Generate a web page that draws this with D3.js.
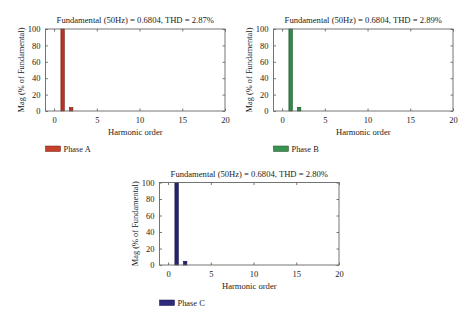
<!DOCTYPE html>
<html>
<head>
<meta charset="utf-8">
<script src="https://cdn.jsdelivr.net/npm/d3@7"></script>
<style>
  html, body { margin: 0; padding: 0; background: #fff; }
  svg { display: block; font-family: "Liberation Serif", "DejaVu Serif", serif; }
</style>
</head>
<body>
<svg id="chart" width="474" height="323"></svg>
<script>
// Harmonic orders 0..20 and magnitude spectra (% of fundamental) per phase
const harmonics = d3.range(0, 21);
const phaseA = [0, 100, 4.3, 0, 0, 0, 0, 0, 0, 0, 0, 0, 0, 0, 0, 0, 0, 0, 0, 0, 0];
const phaseB = [0, 100, 4.4, 0, 0, 0, 0, 0, 0, 0, 0, 0, 0, 0, 0, 0, 0, 0, 0, 0, 0];
const phaseC = [0, 100, 4.5, 0, 0, 0, 0, 0, 0, 0, 0, 0, 0, 0, 0, 0, 0, 0, 0, 0, 0];
const titles = [
  "Fundamental (50Hz) = 0.6804, THD = 2.87%",
  "Fundamental (50Hz) = 0.6804, THD = 2.89%",
  "Fundamental (50Hz) = 0.6804, THD = 2.80%"
];
const legendNames = ["Phase A", "Phase B", "Phase C"];
const xTicks = [0, 5, 10, 15, 20];
const yTicks = [0, 20, 40, 60, 80, 100];
const xAxisLabel = "Harmonic order";
const yAxisLabel = "Mag (% of Fundamental)";

const fills = ["#b83226", "#2f8a45", "#26236f"];
const edges = ["#6e1b14", "#174d24", "#111040"];
const swatchFills = ["#c7402b", "#3a9350", "#2e2b7c"];

// plot-area placement for each panel
const panels = [
  { x: 45.5, y: 29, w: 179.5, h: 82, values: phaseA },
  { x: 273.5, y: 29, w: 179.5, h: 82, values: phaseB },
  { x: 159.5, y: 182.5, w: 179.5, h: 82.5, values: phaseC }
];

const svg = d3.select("#chart");

panels.forEach((p, i) => {
  const g = svg.append("g").attr("transform", `translate(${p.x},${p.y})`);
  const x = d3.scaleLinear().domain([-1, 20]).range([0, p.w]);
  const y = d3.scaleLinear().domain([0, 100]).range([p.h, 0]);
  const barW = 3.4;

  // bars
  g.selectAll("rect.bar")
    .data(harmonics.map((h, k) => ({ h, v: p.values[k] })).filter(d => d.v > 0))
    .enter().append("rect")
    .attr("class", "bar")
    .attr("x", d => x(d.h) - barW / 2)
    .attr("width", barW)
    .attr("y", d => y(d.v))
    .attr("height", d => y(0) - y(d.v))
    .attr("fill", fills[i])
    .attr("stroke", edges[i])
    .attr("stroke-width", 0.6);

  const tickStyle = sel => {
    sel.select(".domain").remove();
    sel.selectAll(".tick line").attr("stroke", "#555").attr("stroke-width", 0.8);
    sel.selectAll(".tick text").attr("fill", "#222")
      .style("font-family", '"Liberation Serif", "DejaVu Serif", serif')
      .style("font-size", "8.5px");
  };

  // bottom axis with inward ticks
  const bx = g.append("g").attr("transform", `translate(0,${p.h})`)
    .call(d3.axisBottom(x).tickValues(xTicks).tickSize(-2.5).tickPadding(6));
  tickStyle(bx);
  // top axis ticks (inward, no labels)
  const tx = g.append("g")
    .call(d3.axisTop(x).tickValues(xTicks).tickSize(-2.5).tickFormat(""));
  tickStyle(tx);
  // left axis
  const ly = g.append("g")
    .call(d3.axisLeft(y).tickValues(yTicks).tickSize(-2.5).tickPadding(5));
  tickStyle(ly);
  // right axis ticks
  const ry = g.append("g").attr("transform", `translate(${p.w},0)`)
    .call(d3.axisRight(y).tickValues(yTicks).tickSize(-2.5).tickFormat(""));
  tickStyle(ry);

  // frame
  g.append("rect")
    .attr("width", p.w).attr("height", p.h)
    .attr("fill", "none").attr("stroke", "#666").attr("stroke-width", 0.9);

  // title
  g.append("text")
    .attr("x", p.w / 2).attr("y", -6)
    .attr("text-anchor", "middle")
    .attr("fill", "#222")
    .style("font-size", "8.6px")
    .text(titles[i]);

  // axis labels
  g.append("text")
    .attr("x", p.w / 2).attr("y", p.h + 23.5)
    .attr("text-anchor", "middle")
    .attr("fill", "#222")
    .style("font-size", "8.6px")
    .text(xAxisLabel);
  g.append("text")
    .attr("transform", `translate(-22,${p.h / 2}) rotate(-90)`)
    .attr("text-anchor", "middle")
    .attr("fill", "#222")
    .style("font-size", "8.4px")
    .text(yAxisLabel);

  // legend
  const lg = g.append("g").attr("transform", `translate(0,${p.h + 35})`);
  lg.append("rect")
    .attr("width", 15).attr("height", 5.5)
    .attr("fill", swatchFills[i]).attr("stroke", edges[i]).attr("stroke-width", 0.5);
  lg.append("text")
    .attr("x", 18).attr("y", 5.5)
    .attr("fill", "#222")
    .style("font-size", "8.4px")
    .text(legendNames[i]);
});
</script>
</body>
</html>
